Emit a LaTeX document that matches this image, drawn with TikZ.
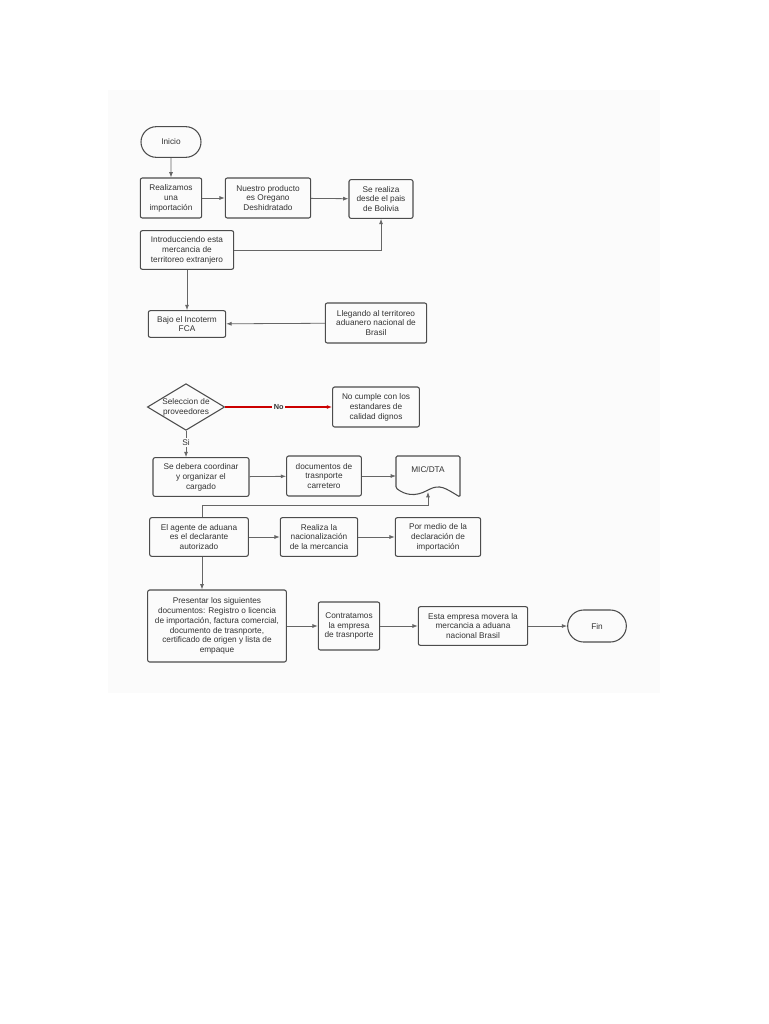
\documentclass[tikz,border=0pt]{standalone}
\usepackage{fontspec}
\setmainfont{Liberation Sans}
\usetikzlibrary{shapes.geometric,shapes.misc,arrows.meta}
\begin{document}
\begin{tikzpicture}[x=0.75pt,y=-0.75pt,
  every node/.style={font=\fontsize{6.2}{7.4}\selectfont, text=black!80, align=center, inner sep=1pt},
  box/.style={draw=black!70, line width=0.8pt, rounded corners=1.5pt},
  term/.style={draw=black!70, line width=0.8pt, rounded rectangle},
  ar/.style={draw=black!60, line width=0.6pt, -{Latex[length=4pt,width=3pt]}}]
\useasboundingbox (0,0) rectangle (768,1024);
\fill[black!1.5] (108,90) rectangle (660,693);
\node[term, minimum width=47pt, minimum height=23pt] (ini) at (171,142) {Inicio};
\node[box, minimum width=46pt, minimum height=30pt] (rea) at (171,198) {Realizamos\\una\\importación};
\node[box, minimum width=64pt, minimum height=30pt] (nue) at (268,198) {Nuestro producto\\es Oregano\\Deshidratado};
\node[box, minimum width=48pt, minimum height=29pt] (ser) at (381,199) {Se realiza\\desde el pais\\de Bolivia};
\node[box, minimum width=70pt, minimum height=29pt] (int) at (187,250) {Introducciendo esta\\mercancia de\\territoreo extranjero};
\node[box, minimum width=58pt, minimum height=20pt] (baj) at (187,324) {Bajo el Incoterm\\FCA};
\node[box, minimum width=76pt, minimum height=30pt] (lle) at (376,323) {Llegando al territoreo\\aduanero nacional de\\Brasil};
\node[diamond, draw=black!70, line width=0.8pt, minimum width=58pt, minimum height=35pt, shape aspect=1.65, inner sep=-6pt] (sel) at (186,407) {Seleccion de\\proveedores};
\node[box, minimum width=65pt, minimum height=30pt] (noc) at (376,407) {No cumple con los\\estandares de\\calidad dignos};
\node[box, minimum width=72pt, minimum height=29pt] (seb) at (201,477) {Se debera coordinar\\y organizar el\\cargado};
\node[box, minimum width=56pt, minimum height=30pt] (doc) at (324,476) {documentos de\\trasnporte\\carretero};
\draw[black!70, line width=0.8pt, rounded corners=1pt] (396,456) -- (460,456) -- (460,497)
  .. controls (445,488) and (440,484) .. (428,490) .. controls (415,497) and (405,495) .. (396,488) -- cycle;
\node (mic) at (428,470) {MIC/DTA};
\coordinate (micb) at (428,492);
\node[box, minimum width=74pt, minimum height=29pt] (age) at (199,537) {El agente de aduana\\es el declarante\\autorizado};
\node[box, minimum width=58pt, minimum height=29pt] (nac) at (319,537) {Realiza la\\nacionalización\\de la mercancia};
\node[box, minimum width=64pt, minimum height=29pt] (por) at (438,537) {Por medio de la\\declaración de\\importación};
\node[box, minimum width=104pt, minimum height=54pt] (pre) at (217,626) {Presentar los siguientes\\documentos: Registro o licencia\\de importación, factura comercial,\\documento de trasnporte,\\certificado de origen y lista de\\empaque};
\node[box, minimum width=46pt, minimum height=36pt] (con) at (349,626) {Contratamos\\la empresa\\de trasnporte};
\node[box, minimum width=82pt, minimum height=29pt] (est) at (473,626) {Esta empresa movera la\\mercancia a aduana\\nacional Brasil};
\node[term, minimum width=46pt, minimum height=24pt] (fin) at (597,626) {Fin};
\draw[ar] (ini) -- (rea);
\draw[ar] (rea) -- (nue);
\draw[ar] (nue) -- (ser);
\draw[ar] (int.east) -| (ser.south);
\draw[ar] (int) -- (baj);
\draw[ar] (lle) -- (baj);
\draw[draw=red!80!black, line width=0.9pt, -{Latex[length=4pt,width=3pt]}] (sel) -- node[fill=black!1.5, font=\fontsize{5.5}{6}\selectfont\bfseries]{No} (noc);
\draw[ar] (sel.south) -- node[fill=black!1.5, pos=0.45]{Si} (sel.south |- seb.north);
\draw[ar] (seb) -- (doc);
\draw[ar] (doc) -- (396,476);
\draw[ar] (age.north -| 202,0) |- (428,505) -- (micb);
\draw[ar] (age) -- (nac);
\draw[ar] (nac) -- (por);
\draw[ar] (age.south -| 202,0) -- (pre.north -| 202,0);
\draw[ar] (pre) -- (con);
\draw[ar] (con) -- (est);
\draw[ar] (est) -- (fin);
\end{tikzpicture}
\end{document}
